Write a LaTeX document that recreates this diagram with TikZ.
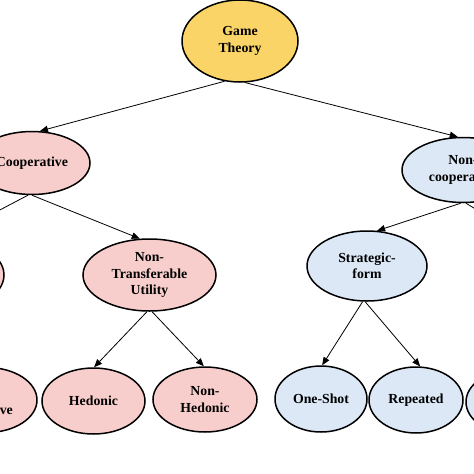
\documentclass[tikz,border=0pt]{standalone}
\usepackage{fontspec}
\setmainfont{Liberation Serif}
\usetikzlibrary{arrows.meta,shapes.geometric}
\definecolor{gold}{HTML}{FAD466}
\definecolor{pinkf}{HTML}{F8CECC}
\definecolor{bluef}{HTML}{DCE8F6}
\tikzset{
  box/.style={ellipse,draw=black,line width=1.5pt,inner sep=0pt,align=center,
    font=\bfseries\fontsize{13.8}{16.5}\selectfont},
  gbox/.style={box,fill=gold},
  pbox/.style={box,fill=pinkf},
  bbox/.style={box,fill=bluef},
  conn/.style={line width=0.8pt,-{Triangle[length=8pt,width=6.5pt]}},
  lbl/.style={inner sep=0pt,font=\bfseries\fontsize{13.8}{16.5}\selectfont}
}
\begin{document}
\begin{tikzpicture}[x=1pt,y=-1pt]
\useasboundingbox (0,0) rectangle (474,474);
\clip (0,0) rectangle (474,474);
\fill[white] (0,0) rectangle (474,474);
% nodes
\node[gbox,minimum width=116pt,minimum height=82pt] (gt) at (240,41) {Game\\Theory};
\node[pbox,minimum width=116pt,minimum height=63pt] (coop) at (32,163) {Cooperative};
\node[bbox,minimum width=122pt,minimum height=65pt] (ncoop) at (463,170) {Non-\\cooperative};
\node[pbox,minimum width=120pt,minimum height=72pt] (tu) at (-56,275) {};
\node[pbox,minimum width=133pt,minimum height=72pt] (ntu) at (149.5,275) {Non-\\Transferable\\Utility};
\node[bbox,minimum width=120pt,minimum height=70pt] (sf) at (367,266) {Strategic-\\form};
\node[pbox,minimum width=100pt,minimum height=65pt] (bl) at (-13,400) {};
\node[lbl,anchor=base east] (blt) at (13,414) {ve};
\node[pbox,minimum width=103pt,minimum height=66pt] (hed) at (93.5,401) {Hedonic};
\node[pbox,minimum width=104pt,minimum height=65pt] (nhed) at (205,399.5) {Non-\\Hedonic};
\node[bbox,minimum width=92pt,minimum height=66pt] (os) at (321,399) {One-Shot};
\node[bbox,minimum width=94pt,minimum height=66pt] (rep) at (416,400) {Repeated};
\node[bbox,minimum width=94pt,minimum height=64pt] (br) at (513,402) {};
\coordinate (rc) at (565,263);
% connectors
\draw[conn] (gt.249) -- (coop.76);
\draw[conn] (gt.277) -- (ncoop.99);
\draw[conn] (coop.263) -- (tu.87);
\draw[conn] (coop.270) -- (ntu.105);
\draw[conn] (ntu.266) -- (hed.89);
\draw[conn] (ntu.274) -- (nhed.92);
\draw[conn] (ncoop.266) -- (sf.74);
\draw[conn] (ncoop.275) -- (rc);
\draw[conn] (sf.263) -- (os.88);
\draw[conn] (sf.267) -- (rep.83);
\end{tikzpicture}
\end{document}
